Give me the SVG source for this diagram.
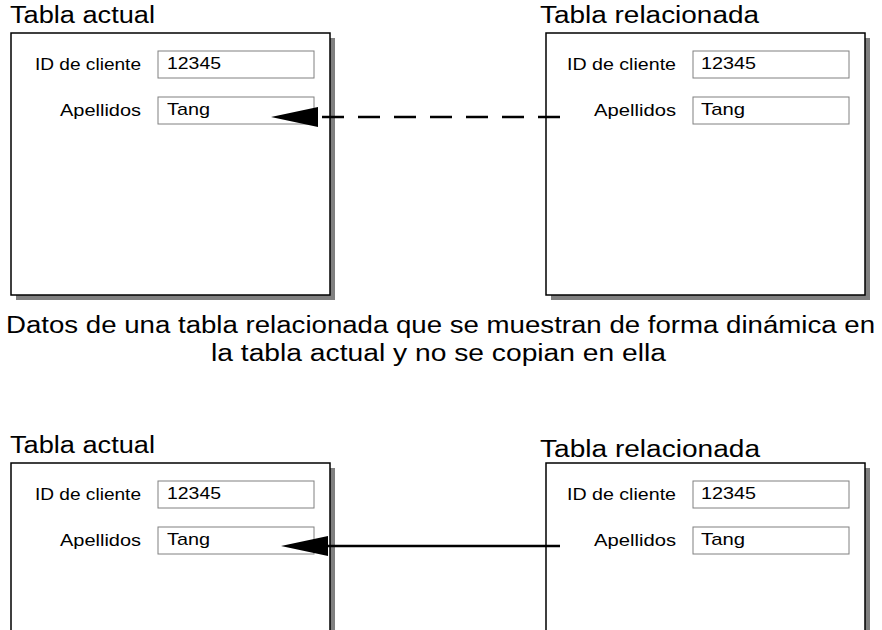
<svg xmlns="http://www.w3.org/2000/svg" width="882" height="630" viewBox="0 0 882 630">
<style>
text{font-family:"Liberation Sans",Arial,sans-serif;fill:#000}
.t{font-size:23px}.l{font-size:17px}.c{font-size:23px}
.box{fill:#fff;stroke:#000;stroke-width:1.5}
.sh{fill:#808080}
.f{fill:#fff;stroke:#808080;stroke-width:1}
.ln{stroke:#000;stroke-width:2.5;fill:none}
</style>
<defs>
<g id="tbl">
<rect class="sh" x="16" y="38" width="319" height="262"/>
<rect class="box" x="11" y="33" width="319" height="262"/>
</g>
</defs>
<g id="top-actual">
<text class="t" x="10" y="23" textLength="145" lengthAdjust="spacingAndGlyphs">Tabla actual</text>
<use href="#tbl"/>
<text class="l" x="35" y="70" textLength="106" lengthAdjust="spacingAndGlyphs">ID de cliente</text>
<rect class="f" x="158" y="51" width="156" height="27"/>
<text class="l" x="167" y="69" textLength="54" lengthAdjust="spacingAndGlyphs">12345</text>
<text class="l" x="60" y="116" textLength="81" lengthAdjust="spacingAndGlyphs">Apellidos</text>
<rect class="f" x="158" y="97" width="156" height="27"/>
<text class="l" x="167" y="115" textLength="43" lengthAdjust="spacingAndGlyphs">Tang</text>
</g>
<g id="top-rel">
<text class="t" x="540" y="23" textLength="219" lengthAdjust="spacingAndGlyphs">Tabla relacionada</text>
<use href="#tbl" x="535"/>
<text class="l" x="567" y="70" textLength="109" lengthAdjust="spacingAndGlyphs">ID de cliente</text>
<rect class="f" x="693" y="51" width="156" height="27"/>
<text class="l" x="701" y="69" textLength="55" lengthAdjust="spacingAndGlyphs">12345</text>
<text class="l" x="594" y="116" textLength="82" lengthAdjust="spacingAndGlyphs">Apellidos</text>
<rect class="f" x="693" y="97" width="156" height="27"/>
<text class="l" x="701" y="115" textLength="44" lengthAdjust="spacingAndGlyphs">Tang</text>
</g>
<g id="caption">
<text class="c" x="6" y="333" textLength="869" lengthAdjust="spacingAndGlyphs">Datos de una tabla relacionada que se muestran de forma dinámica en</text>
<text class="c" x="211" y="361" textLength="455" lengthAdjust="spacingAndGlyphs">la tabla actual y no se copian en ella</text>
</g>
<g id="bot-actual">
<text class="t" x="10" y="453" textLength="145" lengthAdjust="spacingAndGlyphs">Tabla actual</text>
<use href="#tbl" y="430"/>
<text class="l" x="35" y="500" textLength="106" lengthAdjust="spacingAndGlyphs">ID de cliente</text>
<rect class="f" x="158" y="481" width="156" height="27"/>
<text class="l" x="167" y="499" textLength="54" lengthAdjust="spacingAndGlyphs">12345</text>
<text class="l" x="60" y="546" textLength="81" lengthAdjust="spacingAndGlyphs">Apellidos</text>
<rect class="f" x="158" y="527" width="156" height="27"/>
<text class="l" x="167" y="545" textLength="43" lengthAdjust="spacingAndGlyphs">Tang</text>
</g>
<g id="bot-rel">
<text class="t" x="540" y="457" textLength="220" lengthAdjust="spacingAndGlyphs">Tabla relacionada</text>
<use href="#tbl" x="535" y="430"/>
<text class="l" x="567" y="500" textLength="109" lengthAdjust="spacingAndGlyphs">ID de cliente</text>
<rect class="f" x="693" y="481" width="156" height="27"/>
<text class="l" x="701" y="499" textLength="55" lengthAdjust="spacingAndGlyphs">12345</text>
<text class="l" x="594" y="546" textLength="82" lengthAdjust="spacingAndGlyphs">Apellidos</text>
<rect class="f" x="693" y="527" width="156" height="27"/>
<text class="l" x="701" y="545" textLength="44" lengthAdjust="spacingAndGlyphs">Tang</text>
</g>
<g id="connectors">
<line class="ln" x1="560" y1="117" x2="316" y2="117" stroke-dasharray="22 14"/>
<polygon points="271,117 318,107 318,127" fill="#000"/>
<line class="ln" x1="560" y1="546" x2="316" y2="546"/>
<polygon points="281,546 328,536 328,556" fill="#000"/>
</g>
</svg>
